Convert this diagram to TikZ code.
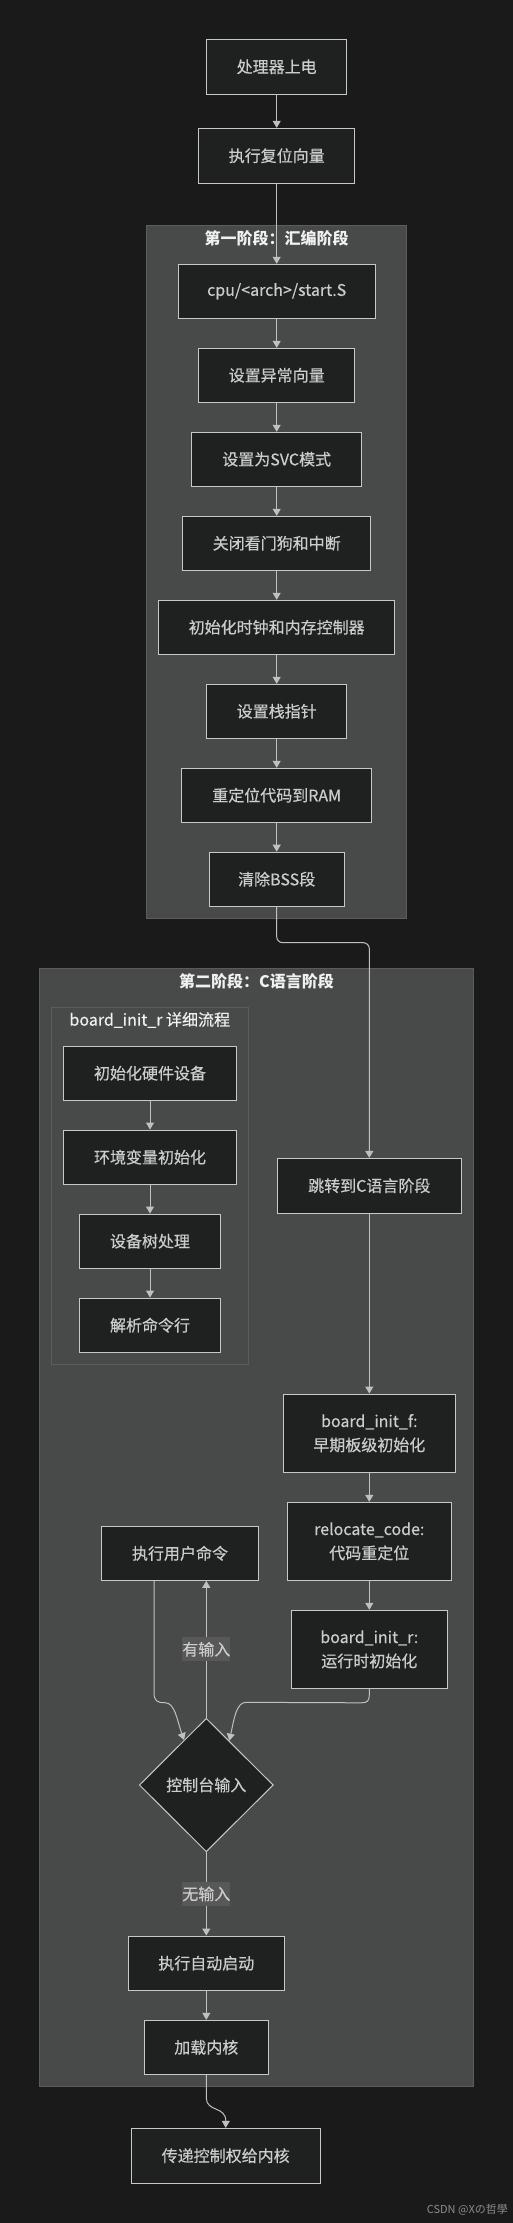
\documentclass[tikz,border=0pt]{standalone}
\usepackage{fontspec}
\setmainfont{Noto Sans CJK SC}
\newfontfamily\nodefont{Noto Sans CJK SC}[FakeBold=0.4]
\usetikzlibrary{arrows.meta,shapes.geometric,calc}
\definecolor{bgc}{HTML}{1A1A1A}
\definecolor{clfill}{HTML}{484A49}
\definecolor{cldraw}{HTML}{5C5C5C}
\definecolor{nfill}{HTML}{1F2121}
\definecolor{ndraw}{HTML}{C8C8C8}
\definecolor{ntext}{HTML}{CCCCCC}
\definecolor{ttext}{HTML}{F0F0F0}
\definecolor{lbg}{HTML}{585858}
\definecolor{edgec}{HTML}{C0C0C0}
\definecolor{wm}{HTML}{8C8C8C}
\begin{document}
\begin{tikzpicture}[x=1pt,y=-1pt,
 stepbox/.style={draw=ndraw, fill=nfill, line width=1pt, text=ntext, font=\nodefont\fontsize{16}{24}\selectfont, inner sep=0pt, align=center},
 cluster/.style={draw=cldraw, fill=clfill, line width=1pt},
 ctitle/.style={text=ttext, font=\fontsize{16}{20}\selectfont, inner sep=0pt},
 conn/.style={draw=edgec, line width=1pt, -{Triangle[length=7pt,width=8pt]}},
 elabel/.style={fill=lbg, text=ntext, font=\nodefont\fontsize{16}{20}\selectfont, inner xsep=0pt, inner ysep=0pt, minimum height=24pt},
 ]
\fill[bgc] (0,0) rectangle (513,2223);
\useasboundingbox (0,0) rectangle (513,2223);

% clusters
\draw[cluster] (146.3,225.3) rectangle (406.7,918.3);
\node[ctitle, font=\bfseries\fontsize{16}{20}\selectfont] (t1) at (276.7,238.3) {第一阶段：汇编阶段};
\draw[cluster] (39.7,968.3) rectangle (473.3,2086.3);
\node[ctitle, font=\bfseries\fontsize{16}{20}\selectfont] (t2) at (256.5,981) {第二阶段：C语言阶段};
\draw[cluster] (51.7,1007.3) rectangle (248,1364);
\node[ctitle, font=\nodefont\fontsize{16}{20}\selectfont] (t3) at (149.8,1020) {board\_init\_r 详细流程};

% stage 1
\node[stepbox, minimum width=140pt, minimum height=55pt] (n1) at (276.7,66.8) {处理器上电};
\node[stepbox, minimum width=156.4pt, minimum height=54.7pt] (n2) at (276.7,155.7) {执行复位向量};
\node[stepbox, minimum width=197.3pt, minimum height=54pt] (n3) at (276.7,291.3) {cpu/<arch>/start.S};
\node[stepbox, minimum width=156.4pt, minimum height=54pt] (n4) at (276.7,375.3) {设置异常向量};
\node[stepbox, minimum width=170.4pt, minimum height=54pt] (n5) at (276.7,459.3) {设置为SVC模式};
\node[stepbox, minimum width=188.4pt, minimum height=54pt] (n6) at (276.7,543.3) {关闭看门狗和中断};
\node[stepbox, minimum width=236.4pt, minimum height=54pt] (n7) at (276.7,627.3) {初始化时钟和内存控制器};
\node[stepbox, minimum width=140pt, minimum height=54pt] (n8) at (276.7,711.3) {设置栈指针};
\node[stepbox, minimum width=190.4pt, minimum height=54pt] (n9) at (276.7,795.3) {重定位代码到RAM};
\node[stepbox, minimum width=135.3pt, minimum height=54pt] (n10) at (276.7,879.2) {清除BSS段};

% sub cluster
\node[stepbox, minimum width=172.6pt, minimum height=54.3pt] (s1) at (150,1073.2) {初始化硬件设备};
\node[stepbox, minimum width=172.6pt, minimum height=54.3pt] (s2) at (150,1157.2) {环境变量初始化};
\node[stepbox, minimum width=140.6pt, minimum height=54.3pt] (s3) at (150,1241.2) {设备树处理};
\node[stepbox, minimum width=140.6pt, minimum height=54.3pt] (s4) at (150,1325.2) {解析命令行};

% stage 2
\node[stepbox, minimum width=184pt, minimum height=54.7pt] (j) at (369.3,1185.7) {跳转到C语言阶段};
\node[stepbox, minimum width=172.4pt, minimum height=78.3pt] (bif) at (369.3,1433.2) {board\_init\_f:\\早期板级初始化};
\node[stepbox, minimum width=164pt, minimum height=78pt] (rc) at (369.3,1541.3) {relocate\_code:\\代码重定位};
\node[stepbox, minimum width=156.4pt, minimum height=78pt] (bir) at (369.3,1649.3) {board\_init\_r:\\运行时初始化};
\node[stepbox, minimum width=156.6pt, minimum height=54pt] (cmd) at (180,1553.3) {执行用户命令};
\node[stepbox, diamond, aspect=1, minimum width=134pt, minimum height=133.4pt] (d) at (206.3,1785) {控制台输入};
\node[stepbox, minimum width=156.6pt, minimum height=54.3pt] (auto) at (206.3,1963.2) {执行自动启动};
\node[stepbox, minimum width=124.6pt, minimum height=54pt] (kern) at (206.3,2047.3) {加载内核};
\node[stepbox, minimum width=188.7pt, minimum height=54.7pt] (pass) at (225.7,2155.7) {传递控制权给内核};

% connectors
\foreach \a/\b in {n1/n2,n2/n3,n3/n4,n4/n5,n5/n6,n6/n7,n7/n8,n8/n9,n9/n10,s1/s2,s2/s3,s3/s4,j/bif,bif/rc,rc/bir,auto/kern}
  \draw[conn] (\a.south) -- (\b.north);
\draw[conn, rounded corners=6pt] (n10.south) -- (276.7,942.7) -| (j.north);
\draw[conn] (bir.south) -- ++(0,6) .. controls +(0,6) and +(6,0) .. ++(-8,8) -- (246,1702.3) .. controls (236,1702.3) and (234,1720) .. ($(d.north)!0.34!(d.east)$);
\draw[conn] ([xshift=-26pt]cmd.south) -- (154,1692) .. controls (154,1701) and (157,1702.7) .. (165,1702.7) .. controls (175,1702.7) and (177,1720) .. ($(d.north)!0.33!(d.west)$);
\draw[conn] (d.north) -- (d.north |- cmd.south) node[elabel, pos=0.5] (l1) {有输入};
\draw[conn] (d.south) -- (auto.north) node[elabel, pos=0.5] (l2) {无输入};
\draw[conn] (kern.south) -- (206.3,2098) .. controls (206.3,2112) and (226,2106) .. (pass.north);

\node[text=wm, font=\fontsize{11}{13}\selectfont, anchor=east, inner sep=0pt] (wmk) at (508,2210) {CSDN @Xの哲學};
\end{tikzpicture}
\end{document}
